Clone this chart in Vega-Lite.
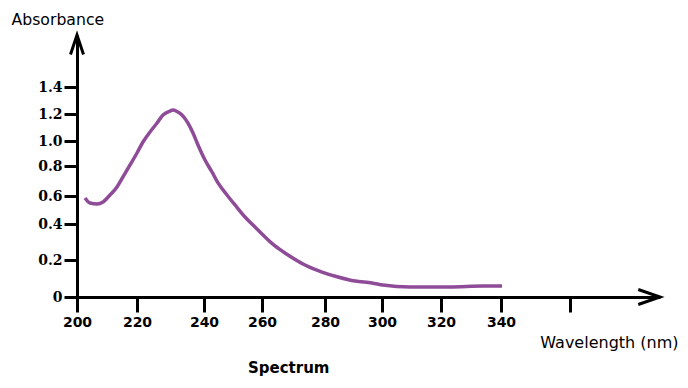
{
  "$schema": "https://vega.github.io/schema/vega-lite/v6.json",
  "autosize": "none",
  "padding": {"left": 77, "top": 35, "right": 28, "bottom": 91},
  "width": 583,
  "height": 262,
  "background": "white",
  "config": {"view": {"stroke": null}},
  "title": {
    "text": "Spectrum",
    "orient": "bottom",
    "anchor": "start",
    "frame": "group",
    "dx": 171,
    "font": "DejaVu Sans",
    "fontSize": 15,
    "fontWeight": "bold",
    "color": "black",
    "offset": 11
  },
  "datasets": {
    "spectrum": [
      {"wavelength": 202.67, "absorbance": 0.586},
      {"wavelength": 204.33, "absorbance": 0.55},
      {"wavelength": 206.67, "absorbance": 0.543},
      {"wavelength": 208.67, "absorbance": 0.557},
      {"wavelength": 211.0, "absorbance": 0.607},
      {"wavelength": 213.33, "absorbance": 0.66},
      {"wavelength": 215.33, "absorbance": 0.727},
      {"wavelength": 217.67, "absorbance": 0.808},
      {"wavelength": 220.0, "absorbance": 0.904},
      {"wavelength": 221.79, "absorbance": 0.992},
      {"wavelength": 223.88, "absorbance": 1.067},
      {"wavelength": 225.97, "absorbance": 1.133},
      {"wavelength": 227.76, "absorbance": 1.193},
      {"wavelength": 229.85, "absorbance": 1.222},
      {"wavelength": 230.75, "absorbance": 1.23},
      {"wavelength": 231.94, "absorbance": 1.219},
      {"wavelength": 233.43, "absorbance": 1.193},
      {"wavelength": 235.22, "absorbance": 1.133},
      {"wavelength": 236.72, "absorbance": 1.059},
      {"wavelength": 238.21, "absorbance": 0.968},
      {"wavelength": 240.34, "absorbance": 0.848},
      {"wavelength": 242.76, "absorbance": 0.76},
      {"wavelength": 244.83, "absorbance": 0.687},
      {"wavelength": 247.93, "absorbance": 0.607},
      {"wavelength": 250.69, "absorbance": 0.536},
      {"wavelength": 254.14, "absorbance": 0.45},
      {"wavelength": 257.59, "absorbance": 0.383},
      {"wavelength": 260.95, "absorbance": 0.328},
      {"wavelength": 264.13, "absorbance": 0.278},
      {"wavelength": 268.25, "absorbance": 0.228},
      {"wavelength": 273.65, "absorbance": 0.173},
      {"wavelength": 279.05, "absorbance": 0.135},
      {"wavelength": 284.56, "absorbance": 0.108},
      {"wavelength": 290.53, "absorbance": 0.086},
      {"wavelength": 296.49, "absorbance": 0.076},
      {"wavelength": 300.34, "absorbance": 0.065},
      {"wavelength": 309.49, "absorbance": 0.054},
      {"wavelength": 323.0, "absorbance": 0.054},
      {"wavelength": 334.0, "absorbance": 0.059},
      {"wavelength": 340.3, "absorbance": 0.059}
    ]
  },
  "layer": [
    {
      "data": {"name": "spectrum"},
      "mark": {"type": "line", "interpolate": "monotone", "color": "#8E4B97", "strokeWidth": 3.5},
      "encoding": {
        "x": {
          "field": "wavelength",
          "type": "quantitative",
          "scale": {
            "domain": [200, 220, 240, 260, 280, 300, 320, 340, 360, 390],
            "range": [0, 60, 127, 185, 248, 305, 364, 424, 493, 583],
            "nice": false,
            "zero": false
          },
          "axis": {
            "values": [200, 220, 240, 260, 280, 300, 320, 340, 360],
            "tickCount": 30,
            "labelExpr": "datum.value > 340 ? '' : datum.label",
            "labelOverlap": false,
            "labelFlush": false,
            "grid": false,
            "domainColor": "black",
            "domainWidth": 3,
            "tickColor": "black",
            "tickWidth": 3,
            "tickSize": 15,
            "labelFont": "DejaVu Sans",
            "labelFontSize": 14,
            "labelFontWeight": "bold",
            "labelColor": "black",
            "labelPadding": 3,
            "title": "Wavelength (nm)",
            "titleFont": "DejaVu Sans",
            "titleFontSize": 16,
            "titleFontWeight": "normal",
            "titleColor": "black",
            "titleAlign": "right",
            "titleAnchor": null,
            "titleBaseline": "alphabetic",
            "titleLimit": 300,
            "titleX": 601,
            "titleY": 50
          }
        },
        "y": {
          "field": "absorbance",
          "type": "quantitative",
          "scale": {
            "domain": [0, 0.2, 0.4, 0.6, 0.8, 1.0, 1.2, 1.4, 1.8],
            "range": [262, 225, 189, 161, 131, 106, 79, 52, 0],
            "nice": false,
            "zero": false
          },
          "axis": {
            "values": [0, 0.2, 0.4, 0.6, 0.8, 1.0, 1.2, 1.4],
            "tickCount": 30,
            "labelExpr": "datum.value == 0 ? '0' : format(datum.value, '.1f')",
            "labelOverlap": false,
            "labelFlush": false,
            "grid": false,
            "domainColor": "black",
            "domainWidth": 3,
            "tickColor": "black",
            "tickWidth": 3,
            "tickSize": 13,
            "labelFont": "DejaVu Serif",
            "labelFontSize": 14,
            "labelFontWeight": "bold",
            "labelColor": "black",
            "labelPadding": 2,
            "title": "Absorbance",
            "titleFont": "DejaVu Sans",
            "titleFontSize": 15.7,
            "titleFontWeight": "normal",
            "titleColor": "black",
            "titleAngle": 0,
            "titleAlign": "left",
            "titleAnchor": null,
            "titleBaseline": "alphabetic",
            "titleLimit": 300,
            "titleX": -66,
            "titleY": -11
          }
        }
      }
    },
    {
      "data": {"values": [{}]},
      "mark": {"type": "point", "shape": "M -2.9 -1 L 0 0 L -2.9 1", "filled": false, "stroke": "black", "strokeWidth": 3, "size": 225, "opacity": 1},
      "encoding": {"x": {"datum": 390, "type": "quantitative"}, "y": {"datum": 0, "type": "quantitative"}}
    },
    {
      "data": {"values": [{}]},
      "mark": {"type": "point", "shape": "M -1 3 L 0 0 L 1 3", "filled": false, "stroke": "black", "strokeWidth": 3, "size": 169, "opacity": 1},
      "encoding": {"x": {"datum": 200, "type": "quantitative"}, "y": {"datum": 1.8, "type": "quantitative"}}
    }
  ]
}
